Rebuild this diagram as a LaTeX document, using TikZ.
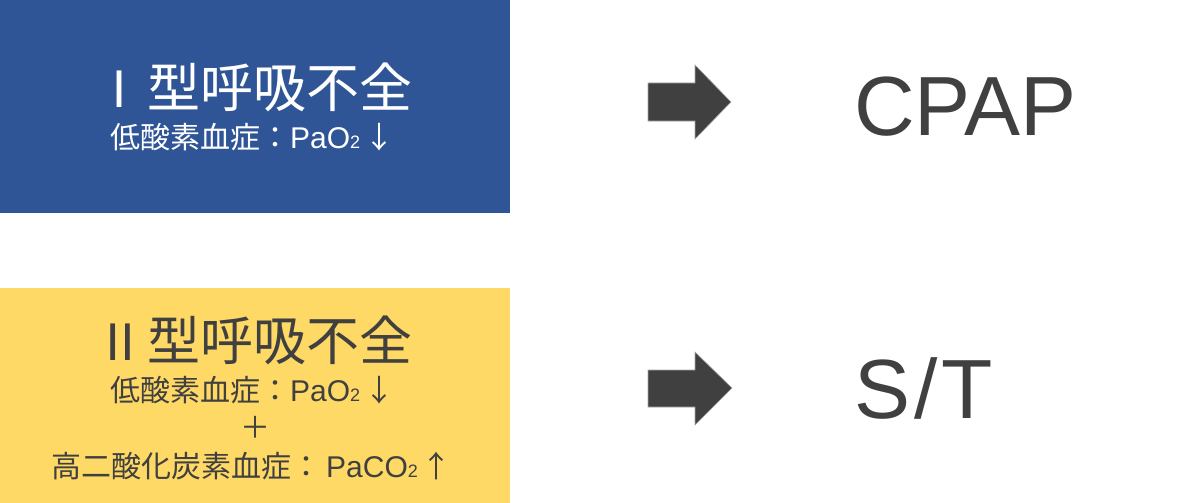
\documentclass[tikz,border=0pt]{standalone}
\usepackage{fontspec}
\setmainfont{Liberation Sans}
\newfontfamily\jp{Noto Sans CJK JP}
\definecolor{boxblue}{HTML}{2F5597}
\definecolor{boxyellow}{HTML}{FFD966}
\definecolor{ink}{HTML}{404040}
\tikzset{
  title/.style={font=\jp\fontsize{53}{56}\selectfont, inner sep=0pt, anchor=base west},
  numeral/.style={font=\jp\fontsize{50}{56}\selectfont, inner sep=0pt, anchor=base},
  sub/.style={font=\fontsize{30}{32}\selectfont, inner sep=0pt, anchor=base west},
  result/.style={font=\fontsize{84}{90}\selectfont, text=ink, inner sep=0pt, anchor=base west},
  bigarrow/.style={fill=ink, draw=gray!70, line width=0.6pt}
}
\newcommand{\sbt}{{\fontsize{18}{20}\selectfont 2}}
\newcommand{\dn}{\kern4pt{\jp↓}}
\newcommand{\up}{\kern4pt{\jp↑}}
\begin{document}
\begin{tikzpicture}[x=1pt,y=-1pt]
\useasboundingbox (0,0) rectangle (1200,503);
% boxes
\fill[boxblue] (0,0) rectangle (510,213);
\fill[boxyellow] (0,288) rectangle (510,503);
% type I
\node[numeral, text=white] (n1) at (119.5,107) {Ⅰ};
\node[title, text=white] (t1) at (147,107) {型呼吸不全};
\node[sub, text=white] (s1) at (110,148) {{\jp 低酸素血症：}PaO\sbt\dn};
% type II
\node[numeral, text=ink] (n2) at (120,360) {Ⅱ};
\node[title, text=ink] (t2) at (147,360) {型呼吸不全};
\node[sub, text=ink] (s2) at (110,401) {{\jp 低酸素血症：}PaO\sbt\dn};
\node[font=\jp\fontsize{30}{32}\selectfont, text=ink, inner sep=0pt] (p2) at (255,427) {＋};
\node[sub, text=ink] (s3) at (51,477) {{\jp 高二酸化炭素血症：}\kern5pt PaCO\sbt\up};
% arrows
\draw[bigarrow] (648,83) -- (695,83) -- (695,65) -- (731,102) -- (695,139) -- (695,121) -- (648,121) -- cycle;
\draw[bigarrow] (648,370) -- (695,370) -- (695,352) -- (732,388) -- (695,425) -- (695,407) -- (648,407) -- cycle;
% results
\node[result] (r1) at (854,135) {CPAP};
\node[result] (r2) at (854,418) {S\kern4pt/\kern4pt T};
\end{tikzpicture}
\end{document}
